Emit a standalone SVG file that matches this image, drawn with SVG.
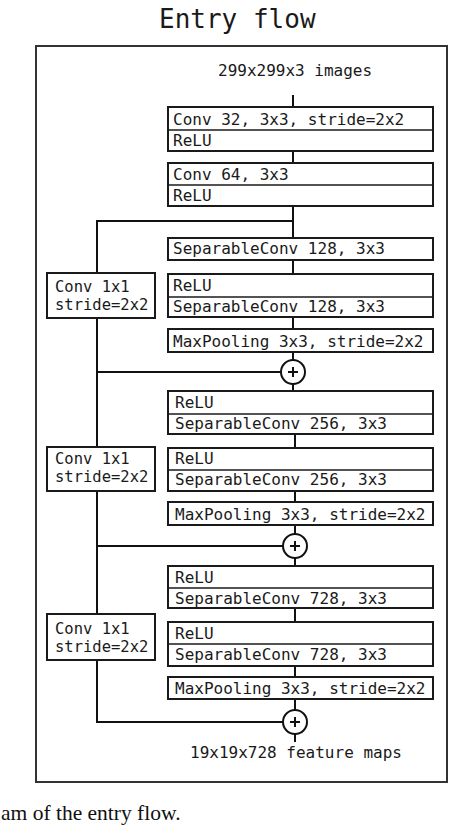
<svg xmlns="http://www.w3.org/2000/svg" width="454" height="826" viewBox="0 0 454 826">
<style>
.bx{fill:#fff;stroke:#1a1a1a;stroke-width:2}
.dv{stroke:#1a1a1a;stroke-width:1.5}
.t{font-family:"DejaVu Sans Mono",monospace;font-size:16px;fill:#1a1a1a}
.r{font-family:"DejaVu Sans Mono",monospace;font-size:15.5px;fill:#1a1a1a}
.c{fill:none;stroke:#111;stroke-width:2}
.sum{fill:#fff;stroke:#111;stroke-width:2}
</style>
<rect width="454" height="826" fill="#fff"/>
<text x="159" y="28" font-family="DejaVu Sans Mono, monospace" font-size="26" fill="#1a1a1a">Entry flow</text>
<rect x="36" y="46" width="411" height="736" fill="none" stroke="#333" stroke-width="2"/>
<text class="t" x="218" y="76">299x299x3 images</text>

<g id="connectors">
<path class="c" d="M293 95V107M293 151V163M293 206V238M293 221H97V273M293 260V274M293 317V329M293 352V360M97 318V447M97 372H281M293 384V391"/>
<path class="c" d="M295 434V448M295 491V502M295 525V534M97 491V614M97 546H283M295 558V566M295 608V622M295 666V677M295 699V710M97 660V722H283M295 734V742"/>
</g>

<g id="conv32"><rect class="bx" x="168" y="107" width="265" height="44"/><line class="dv" x1="168" y1="130" x2="433" y2="130"/><text class="t" x="173" y="125">Conv 32, 3x3, stride=2x2</text><text class="t" x="173" y="146">ReLU</text></g>
<g id="conv64"><rect class="bx" x="168" y="163" width="265" height="43"/><line class="dv" x1="168" y1="185" x2="433" y2="185"/><text class="t" x="173" y="180">Conv 64, 3x3</text><text class="t" x="173" y="201">ReLU</text></g>
<g id="sep128a"><rect class="bx" x="168" y="238" width="265" height="22"/><text class="t" x="173" y="254">SeparableConv 128, 3x3</text></g>
<g id="sep128b"><rect class="bx" x="168" y="274" width="265" height="43"/><line class="dv" x1="168" y1="297" x2="433" y2="297"/><text class="t" x="173" y="291">ReLU</text><text class="t" x="173" y="312">SeparableConv 128, 3x3</text></g>
<g id="pool1"><rect class="bx" x="168" y="329" width="265" height="23"/><text class="t" x="173" y="346.5">MaxPooling 3x3, stride=2x2</text></g>
<g id="res1"><rect class="bx" x="47" y="273" width="108" height="45"/><text class="r" x="55" y="292">Conv 1x1</text><text class="r" x="55" y="310">stride=2x2</text></g>
<g id="add1"><circle class="sum" cx="293" cy="372" r="12"/><path class="c" d="M288 372H298M293 367V377" stroke-width="1.5"/></g>

<g id="sep256a"><rect class="bx" x="168" y="391" width="265" height="43"/><line class="dv" x1="168" y1="414" x2="433" y2="414"/><text class="t" x="175" y="408">ReLU</text><text class="t" x="175" y="429">SeparableConv 256, 3x3</text></g>
<g id="sep256b"><rect class="bx" x="168" y="448" width="265" height="43"/><line class="dv" x1="168" y1="470" x2="433" y2="470"/><text class="t" x="175" y="464">ReLU</text><text class="t" x="175" y="485">SeparableConv 256, 3x3</text></g>
<g id="pool2"><rect class="bx" x="168" y="502" width="265" height="23"/><text class="t" x="175" y="520">MaxPooling 3x3, stride=2x2</text></g>
<g id="res2"><rect class="bx" x="47" y="447" width="108" height="44"/><text class="r" x="55" y="464">Conv 1x1</text><text class="r" x="55" y="482">stride=2x2</text></g>
<g id="add2"><circle class="sum" cx="295" cy="546" r="12"/><path class="c" d="M290 546H300M295 541V551" stroke-width="1.5"/></g>

<g id="sep728a"><rect class="bx" x="168" y="566" width="265" height="42"/><line class="dv" x1="168" y1="588" x2="433" y2="588"/><text class="t" x="175" y="583">ReLU</text><text class="t" x="175" y="603.5">SeparableConv 728, 3x3</text></g>
<g id="sep728b"><rect class="bx" x="168" y="622" width="265" height="44"/><line class="dv" x1="168" y1="644" x2="433" y2="644"/><text class="t" x="175" y="638.5">ReLU</text><text class="t" x="175" y="660">SeparableConv 728, 3x3</text></g>
<g id="pool3"><rect class="bx" x="168" y="677" width="265" height="22" stroke-width="2.5"/><text class="t" x="175" y="693.5">MaxPooling 3x3, stride=2x2</text></g>
<g id="res3"><rect class="bx" x="47" y="614" width="108" height="46"/><text class="r" x="55" y="634">Conv 1x1</text><text class="r" x="55" y="652">stride=2x2</text></g>
<g id="add3"><circle class="sum" cx="295" cy="722" r="12"/><path class="c" d="M290 722H300M295 717V727" stroke-width="1.5"/></g>

<text class="t" x="190" y="758">19x19x728 feature maps</text>
<text x="1" y="820" font-family="Liberation Serif, serif" font-size="21.5" fill="#111">am of the entry flow.</text>
</svg>
